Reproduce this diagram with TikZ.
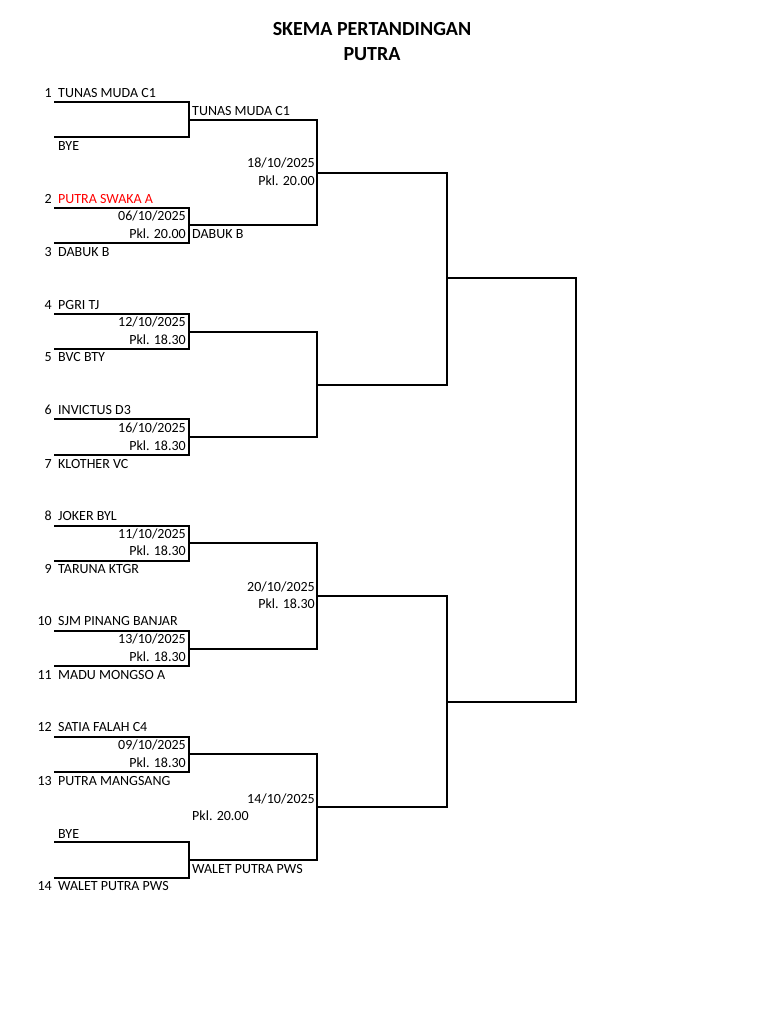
\documentclass[tikz,border=0pt]{standalone}
\usepackage{fontspec}
\setmainfont{Carlito}
\begin{document}
\begin{tikzpicture}[x=1pt,y=-1pt,
  lbl/.style={inner sep=0pt,text height=9pt,text depth=0pt,font=\fontsize{14}{16}\selectfont},
  lw/.style={lbl,anchor=west},
  le/.style={lbl,anchor=east},
  ttl/.style={inner sep=0pt,font=\fontsize{20}{24}\selectfont\bfseries},
  ln/.style={line width=1.1pt,line cap=rect},
  tk/.style={line width=1.6pt,line cap=rect}]
\useasboundingbox (0,0) rectangle (768,1024);
\fill[white] (0,0) rectangle (768,1024);

% title
\node[ttl] (t1) at (372,29) {SKEMA PERTANDINGAN};
\node[ttl] (t2) at (372,54) {PUTRA};

% ---------- coordinates ----------
\def\xa{55}\def\xb{189}\def\xc{317}\def\xd{447}\def\xe{576}
% round 1 match lines (top,bottom)
\foreach \n/\ta/\tb in {m1/102/137, m2/208/243, m3/314/349, m4/419/455, m5/526/561, m6/631/666, m7/737/772, m8/842/878}{
  \coordinate (\n ta) at (\xa,\ta);
  \coordinate (\n tb) at (\xb,\ta);
  \coordinate (\n ba) at (\xa,\tb);
  \coordinate (\n bb) at (\xb,\tb);
}
\coordinate (o1) at (\xb,120); \coordinate (o1r) at (\xc,120);
\coordinate (o2) at (\xb,225); \coordinate (o2r) at (\xc,225);
\coordinate (o3) at (\xb,332); \coordinate (o3r) at (\xc,332);
\coordinate (o4) at (\xb,437); \coordinate (o4r) at (\xc,437);
\coordinate (o5) at (\xb,543); \coordinate (o5r) at (\xc,543);
\coordinate (o6) at (\xb,649); \coordinate (o6r) at (\xc,649);
\coordinate (o7) at (\xb,754); \coordinate (o7r) at (\xc,754);
\coordinate (o8) at (\xb,860); \coordinate (o8r) at (\xc,860);
\coordinate (q1) at (\xc,173); \coordinate (q1r) at (\xd,173);
\coordinate (q2) at (\xc,385); \coordinate (q2r) at (\xd,385);
\coordinate (q3) at (\xc,596); \coordinate (q3r) at (\xd,596);
\coordinate (q4) at (\xc,807); \coordinate (q4r) at (\xd,807);
\coordinate (s1) at (\xd,278); \coordinate (s1r) at (\xe,278);
\coordinate (s2) at (\xd,702); \coordinate (s2r) at (\xe,702);

% ---------- round 1 ----------
\foreach \n in {m1,m2,m3,m4,m5,m6,m7,m8}{
  \draw[ln] (\n ta) -- (\n tb) -- (\n bb);
  \draw[tk] (\n ba) -- (\n bb);
}
% ---------- round 2 ----------
\draw[ln] (o1) -- (o1r);
\draw[tk] (o1r) -- (o2r) -- (o2);
\draw[ln] (o3) -- (o3r) -- (o4r) -- (o4);
\draw[ln] (o5) -- (o5r);
\draw[tk] (o5r) -- (o6r) -- (o6);
\draw[ln] (o7) -- (o7r) -- (o8r) -- (o8);
% ---------- round 3 ----------
\draw[ln] (q1) -- (q1r);
\draw[tk] (q1r) -- (q2r) -- (q2);
\draw[ln] (q3) -- (q3r) -- (q4r) -- (q4);
% ---------- final ----------
\draw[ln] (s1) -- (s1r) -- (s2r) -- (s2);

% ---------- texts ----------
\node[le] (n1) at (52,93) {1};   \node[lw] (p1) at (58,93) {TUNAS MUDA C1};
\node[lw] (b1) at (58,146) {BYE};
\node[lw] (w1) at (192,111) {TUNAS MUDA C1};
\node[le] (d9) at (315,163) {18/10/2025};
\node[le] (h9) at (315,181) {Pkl. 20.00};
\node[le] (n2) at (52,199) {2};  \node[lw,text=red] (p2) at (58,199) {PUTRA SWAKA A};
\node[le] (d1) at (186,216) {06/10/2025};
\node[le] (h1) at (186,234) {Pkl. 20.00};
\node[lw] (w2) at (192,234) {DABUK B};
\node[le] (n3) at (52,252) {3};  \node[lw] (p3) at (58,252) {DABUK B};

\node[le] (n4) at (52,305) {4};  \node[lw] (p4) at (58,305) {PGRI TJ};
\node[le] (d2) at (186,322) {12/10/2025};
\node[le] (h2) at (186,340) {Pkl. 18.30};
\node[le] (n5) at (52,357) {5};  \node[lw] (p5) at (58,357) {BVC BTY};

\node[le] (n6) at (52,410) {6};  \node[lw] (p6) at (58,410) {INVICTUS D3};
\node[le] (d3) at (186,428) {16/10/2025};
\node[le] (h3) at (186,446) {Pkl. 18.30};
\node[le] (n7) at (52,464) {7};  \node[lw] (p7) at (58,464) {KLOTHER VC};

\node[le] (n8) at (52,516) {8};  \node[lw] (p8) at (58,516) {JOKER BYL};
\node[le] (d4) at (186,534) {11/10/2025};
\node[le] (h4) at (186,551) {Pkl. 18.30};
\node[le] (n9) at (52,569) {9};  \node[lw] (p9) at (58,569) {TARUNA KTGR};
\node[le] (d10) at (315,587) {20/10/2025};
\node[le] (h10) at (315,604) {Pkl. 18.30};
\node[le] (n10) at (52,621) {10}; \node[lw] (p10) at (58,621) {SJM PINANG BANJAR};
\node[le] (d5) at (186,639) {13/10/2025};
\node[le] (h5) at (186,657) {Pkl. 18.30};
\node[le] (n11) at (52,675) {11}; \node[lw] (p11) at (58,675) {MADU MONGSO A};

\node[le] (n12) at (52,727) {12}; \node[lw] (p12) at (58,727) {SATIA FALAH C4};
\node[le] (d6) at (186,745) {09/10/2025};
\node[le] (h6) at (186,763) {Pkl. 18.30};
\node[le] (n13) at (52,781) {13}; \node[lw] (p13) at (58,781) {PUTRA MANGSANG};
\node[le] (d11) at (315,799) {14/10/2025};
\node[lw] (h11) at (192,816) {Pkl. 20.00};
\node[lw] (b2) at (58,834) {BYE};
\node[lw] (w8) at (192,869) {WALET PUTRA PWS};
\node[le] (n14) at (52,886) {14}; \node[lw] (p14) at (58,886) {WALET PUTRA PWS};
\end{tikzpicture}
\end{document}
